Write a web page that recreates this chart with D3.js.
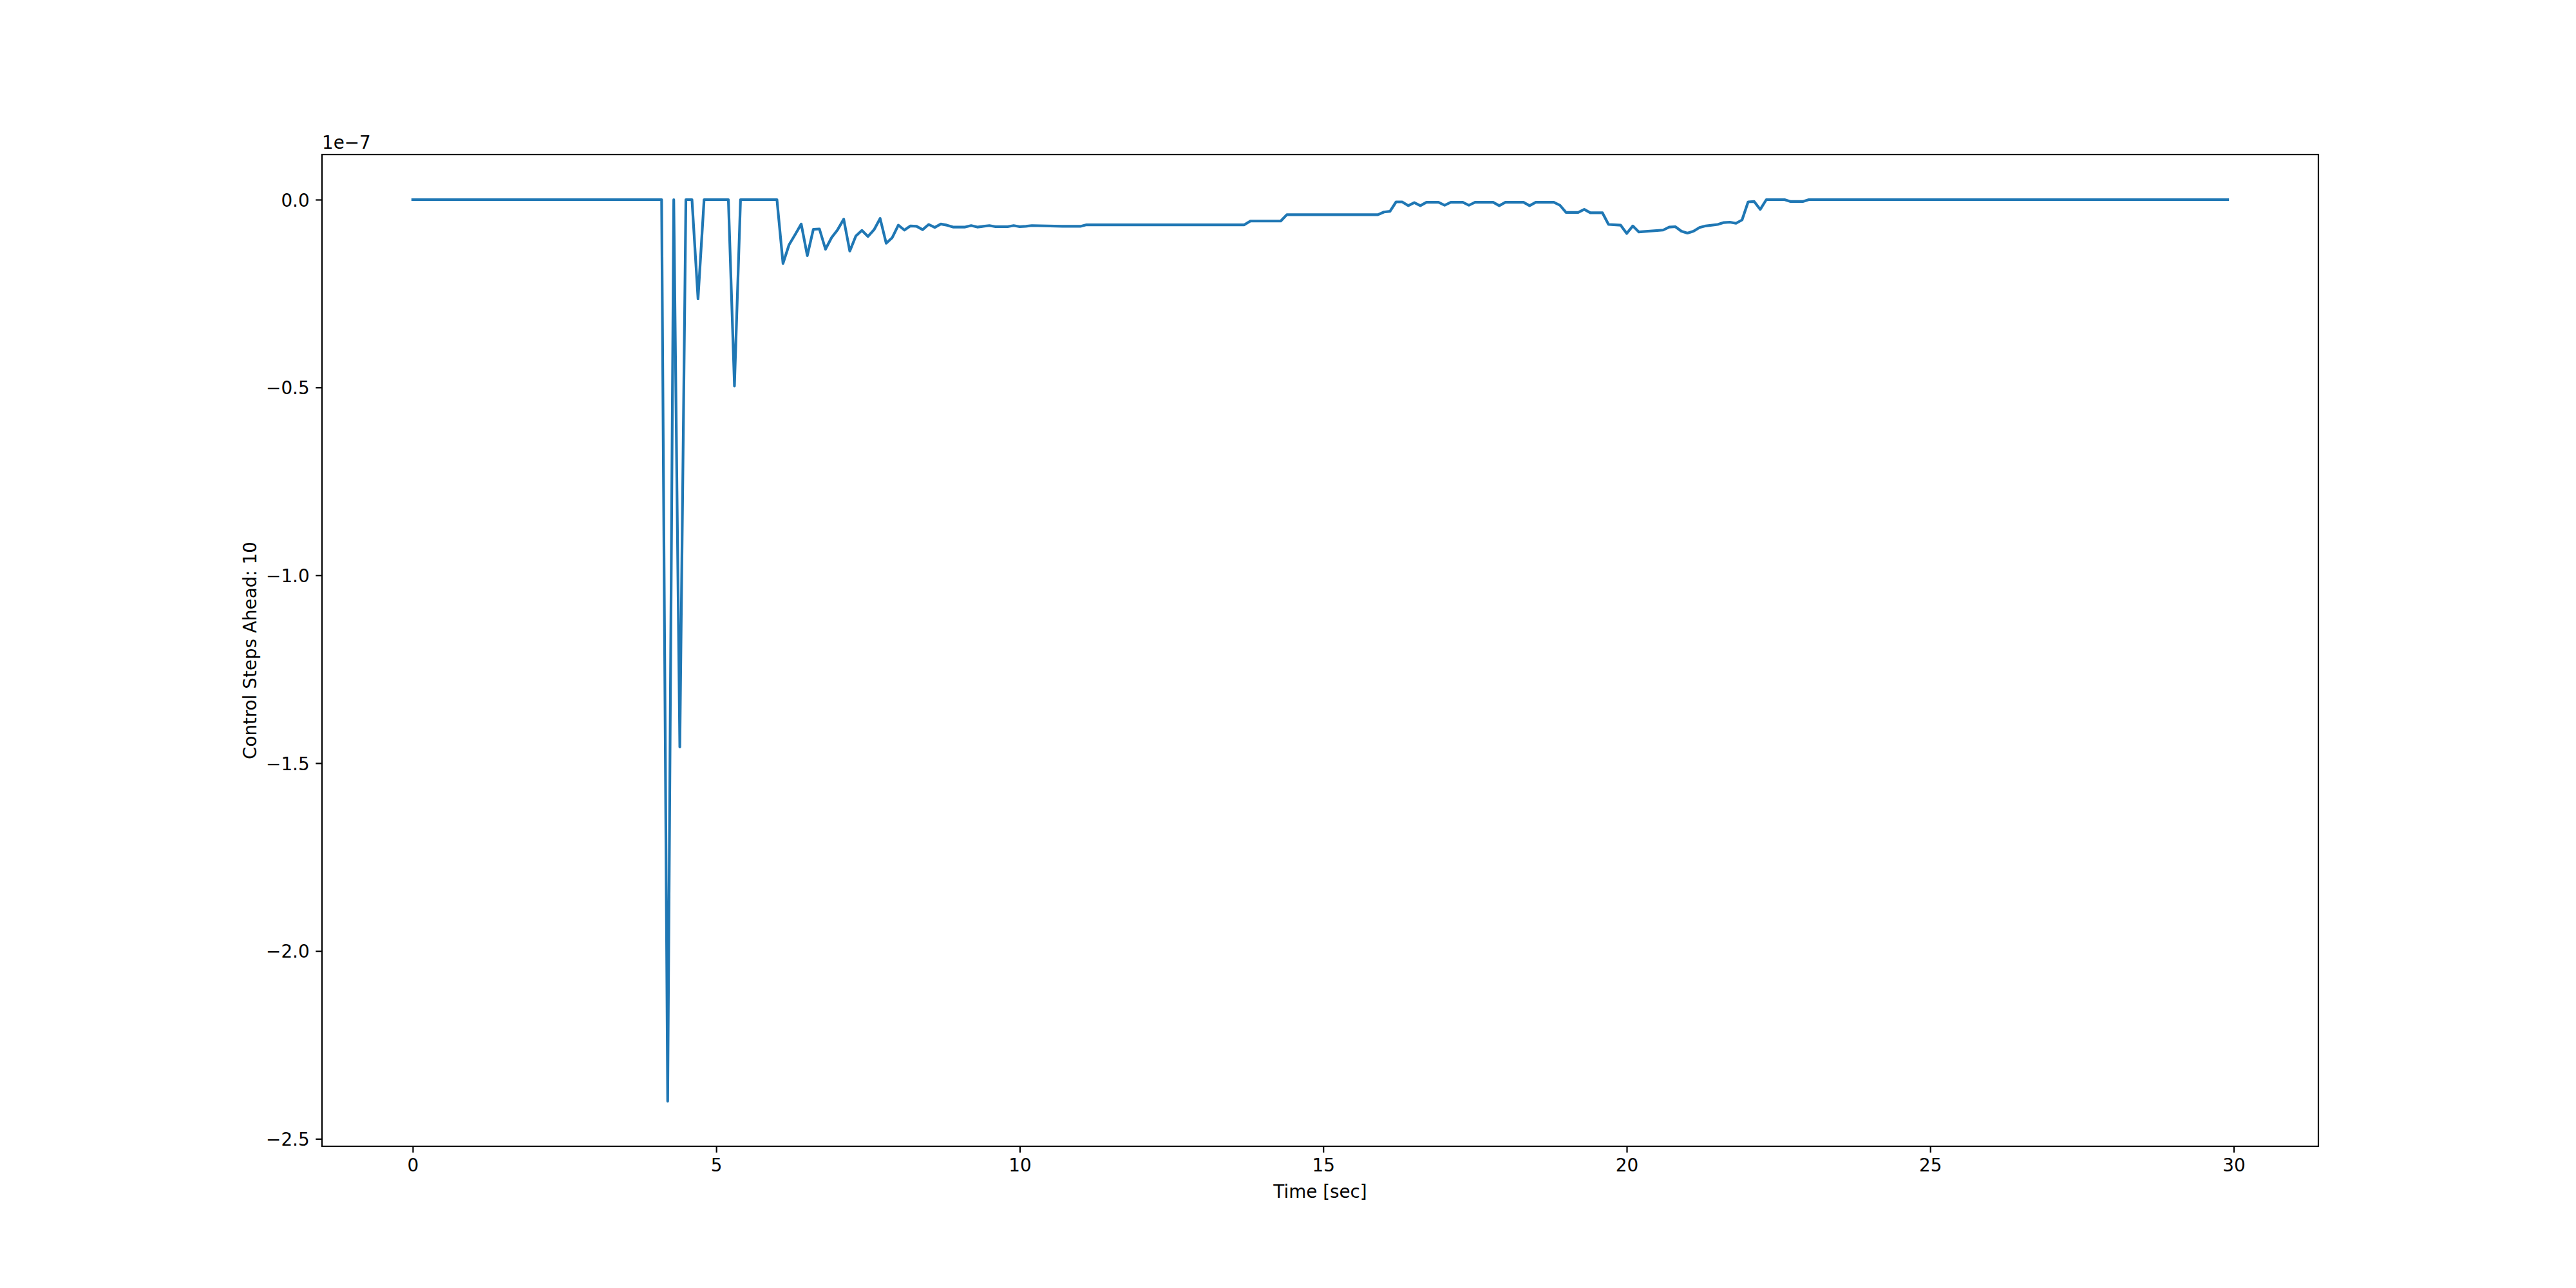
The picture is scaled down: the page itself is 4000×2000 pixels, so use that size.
<!DOCTYPE html>
<html>
<head>
<meta charset="utf-8">
<script src="https://cdn.jsdelivr.net/npm/d3@7"></script>
<style>
  html, body { margin: 0; padding: 0; background: #fff; }
  svg text { font-family: "DejaVu Sans", sans-serif; fill: #000; }
</style>
</head>
<body>
<svg id="chart"></svg>
<script>
//data (values are in units of 1e-7)
const timeSec = [
  0, 4.1, 4.2, 4.3, 4.4, 4.5, 4.6, 4.7, 4.8, 5.2, 5.3, 5.4, 6.0,
  6.1, 6.2, 6.3, 6.4, 6.5, 6.6, 6.7, 6.8, 6.9, 7.0, 7.1, 7.2, 7.3, 7.4, 7.5,
  7.6, 7.7, 7.8, 7.9, 8.0, 8.1, 8.2, 8.3, 8.4, 8.5, 8.6, 8.7, 8.8, 8.9, 9.0,
  9.1, 9.2, 9.3, 9.4, 9.5, 9.6, 9.7, 9.8, 9.9, 10.0, 10.1, 10.2, 10.7, 11.0,
  11.1, 13.7, 13.8, 14.3, 14.4, 15.9, 16.0, 16.1, 16.2, 16.3, 16.4, 16.5,
  16.6, 16.7, 16.9, 17.0, 17.1, 17.3, 17.4, 17.5, 17.8, 17.9, 18.0, 18.3,
  18.4, 18.5, 18.8, 18.9, 19.0, 19.2, 19.3, 19.4, 19.6, 19.7, 19.9, 20.0,
  20.1, 20.2, 20.6, 20.7, 20.8, 20.9, 21.0, 21.1, 21.2, 21.3, 21.5, 21.6,
  21.7, 21.8, 21.9, 22.0, 22.1, 22.2, 22.3, 22.6, 22.7, 22.9, 23.0, 29.9
];
const stepsAhead = [
  0, 0, -2.40, 0, -1.457, 0, 0, -0.264, 0, 0, -0.496, 0, 0,
  -0.170, -0.120, -0.093, -0.065, -0.149, -0.079, -0.078, -0.132, -0.101, -0.080, -0.052, -0.137, -0.097, -0.082, -0.098,
  -0.080, -0.050, -0.116, -0.101, -0.068, -0.081, -0.070, -0.071, -0.080, -0.066, -0.074, -0.065, -0.068, -0.073, -0.073,
  -0.073, -0.069, -0.073, -0.071, -0.069, -0.072, -0.072, -0.072, -0.069, -0.072, -0.071, -0.069, -0.071, -0.071,
  -0.067, -0.067, -0.057, -0.057, -0.040, -0.040, -0.033, -0.031, -0.006, -0.006, -0.016, -0.008,
  -0.016, -0.007, -0.007, -0.015, -0.007, -0.007, -0.015, -0.007, -0.007, -0.016, -0.007, -0.007,
  -0.016, -0.007, -0.007, -0.015, -0.034, -0.034, -0.026, -0.035, -0.035, -0.066, -0.068, -0.090,
  -0.070, -0.086, -0.081, -0.073, -0.072, -0.084, -0.089, -0.084, -0.074, -0.070, -0.066, -0.061,
  -0.060, -0.063, -0.054, -0.006, -0.005, -0.026, 0, 0, -0.005, -0.005, 0, 0
];
const xTicks = [0, 5, 10, 15, 20, 25, 30];
const yTicks = [0, -0.5, -1.0, -1.5, -2.0, -2.5];
const yOffsetLabel = '1e\u22127';
const xLabel = 'Time [sec]';
const yLabel = 'Control Steps Ahead: 10';

//config
const W = 4000, H = 2000;
const M = { left: 500, right: 3600, top: 240, bottom: 1780 };
const FONT = 27.8;       // 10pt at 200 dpi
const TICK = 9.7;        // 3.5pt
const LINE_COLOR = '#1f77b4';

function padded(ext) {
  const span = ext[1] - ext[0];
  return [ext[0] - span * 0.05, ext[1] + span * 0.05];
}

function draw() {
  const svg = d3.select('#chart').attr('width', W).attr('height', H);

  const points = timeSec.map((t, i) => ({ t, v: stepsAhead[i] }));

  const x = d3.scaleLinear()
    .domain(padded(d3.extent(timeSec)))
    .range([M.left, M.right]);
  const y = d3.scaleLinear()
    .domain(padded(d3.extent(stepsAhead)))
    .range([M.bottom, M.top]);

  // line
  const clipId = 'plot-clip';
  svg.append('clipPath').attr('id', clipId)
    .append('rect')
    .attr('x', M.left).attr('y', M.top)
    .attr('width', M.right - M.left).attr('height', M.bottom - M.top);

  svg.append('path')
    .datum(points)
    .attr('clip-path', `url(#${clipId})`)
    .attr('fill', 'none')
    .attr('stroke', LINE_COLOR)
    .attr('stroke-width', 4.17)
    .attr('stroke-linejoin', 'round')
    .attr('stroke-linecap', 'square')
    .attr('d', d3.line().x(d => x(d.t)).y(d => y(d.v)));

  // axes
  const fmtY = d3.format('.1f');
  const xAxis = svg.append('g')
    .attr('transform', `translate(0,${M.bottom})`)
    .call(d3.axisBottom(x).tickValues(xTicks).tickFormat(d3.format('d'))
      .tickSize(TICK).tickPadding(TICK).tickSizeOuter(0));
  const yAxis = svg.append('g')
    .attr('transform', `translate(${M.left},0)`)
    .call(d3.axisLeft(y).tickValues(yTicks).tickFormat(fmtY)
      .tickSize(TICK).tickPadding(TICK).tickSizeOuter(0));

  [xAxis, yAxis].forEach(a => {
    a.select('.domain').remove();
    a.selectAll('.tick line').attr('stroke', '#000').attr('stroke-width', 2.2);
    a.selectAll('.tick text')
      .style('font-family', '"DejaVu Sans", sans-serif')
      .style('font-size', FONT + 'px')
      .attr('fill', '#000');
  });
  yAxis.selectAll('.tick text').attr('dy', '0.36em');

  // frame
  svg.append('rect')
    .attr('x', M.left).attr('y', M.top)
    .attr('width', M.right - M.left).attr('height', M.bottom - M.top)
    .attr('fill', 'none')
    .attr('stroke', '#000')
    .attr('stroke-width', 2.2);

  // labels
  svg.append('text')
    .attr('x', M.left).attr('y', 231)
    .style('font-size', FONT + 'px')
    .text(yOffsetLabel);

  svg.append('text')
    .attr('x', (M.left + M.right) / 2).attr('y', 1860)
    .attr('text-anchor', 'middle')
    .style('font-size', FONT + 'px')
    .text(xLabel);

  svg.append('text')
    .attr('transform', `translate(398,${(M.top + M.bottom) / 2}) rotate(-90)`)
    .attr('text-anchor', 'middle')
    .style('font-size', FONT + 'px')
    .text(yLabel);
}

draw();
</script>
</body>
</html>
